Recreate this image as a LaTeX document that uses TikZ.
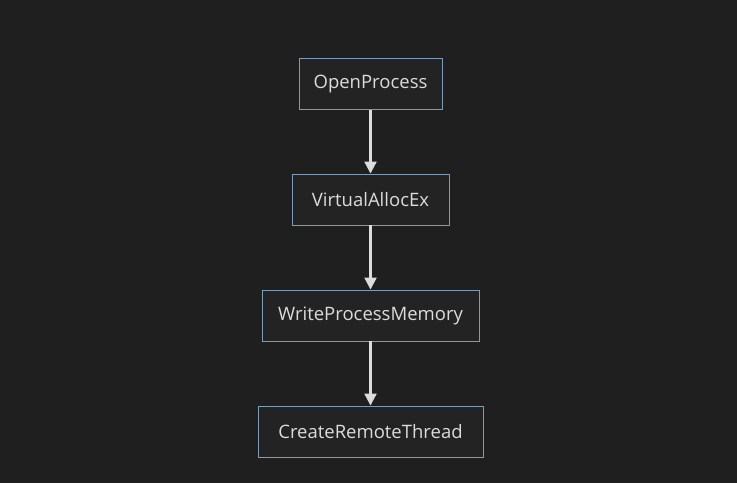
\documentclass[tikz,border=0pt]{standalone}
\usepackage{fontspec}
\setmainfont{Open Sans}
\usetikzlibrary{arrows.meta}
\definecolor{bg}{HTML}{1F1F1F}
\definecolor{bd}{HTML}{7F9BB5}
\definecolor{nf}{HTML}{232323}
\definecolor{tx}{HTML}{DCDCDC}
\newcommand{\lbl}[1]{\raisebox{-4pt}{#1}}
\begin{document}
\begin{tikzpicture}[x=1pt,y=1pt,
  box/.style={draw=bd,fill=nf,line width=0.9pt,text=tx,font=\fontsize{18.5}{22}\selectfont,minimum height=51pt,inner xsep=6pt,anchor=center},
  arr/.style={draw=tx,line width=2.2pt,-{Triangle[length=12pt,width=12pt]}}]
\fill[bg] (0,0) rectangle (737,483);
\useasboundingbox (0,0) rectangle (737,483);
\node[box,minimum width=143pt] (a) at (370.5,399) {\lbl{OpenProcess}};
\node[box,minimum width=157pt] (b) at (370.5,283.5) {\lbl{VirtualAllocEx}};
\node[box,minimum width=217pt] (c) at (370.5,167.5) {\lbl{WriteProcessMemory}};
\node[box,minimum width=225pt] (d) at (370.5,51.5) {\lbl{CreateRemoteThread}};
\draw[arr] (a) -- (b);
\draw[arr] (b) -- (c);
\draw[arr] (c) -- (d);
\end{tikzpicture}
\end{document}
